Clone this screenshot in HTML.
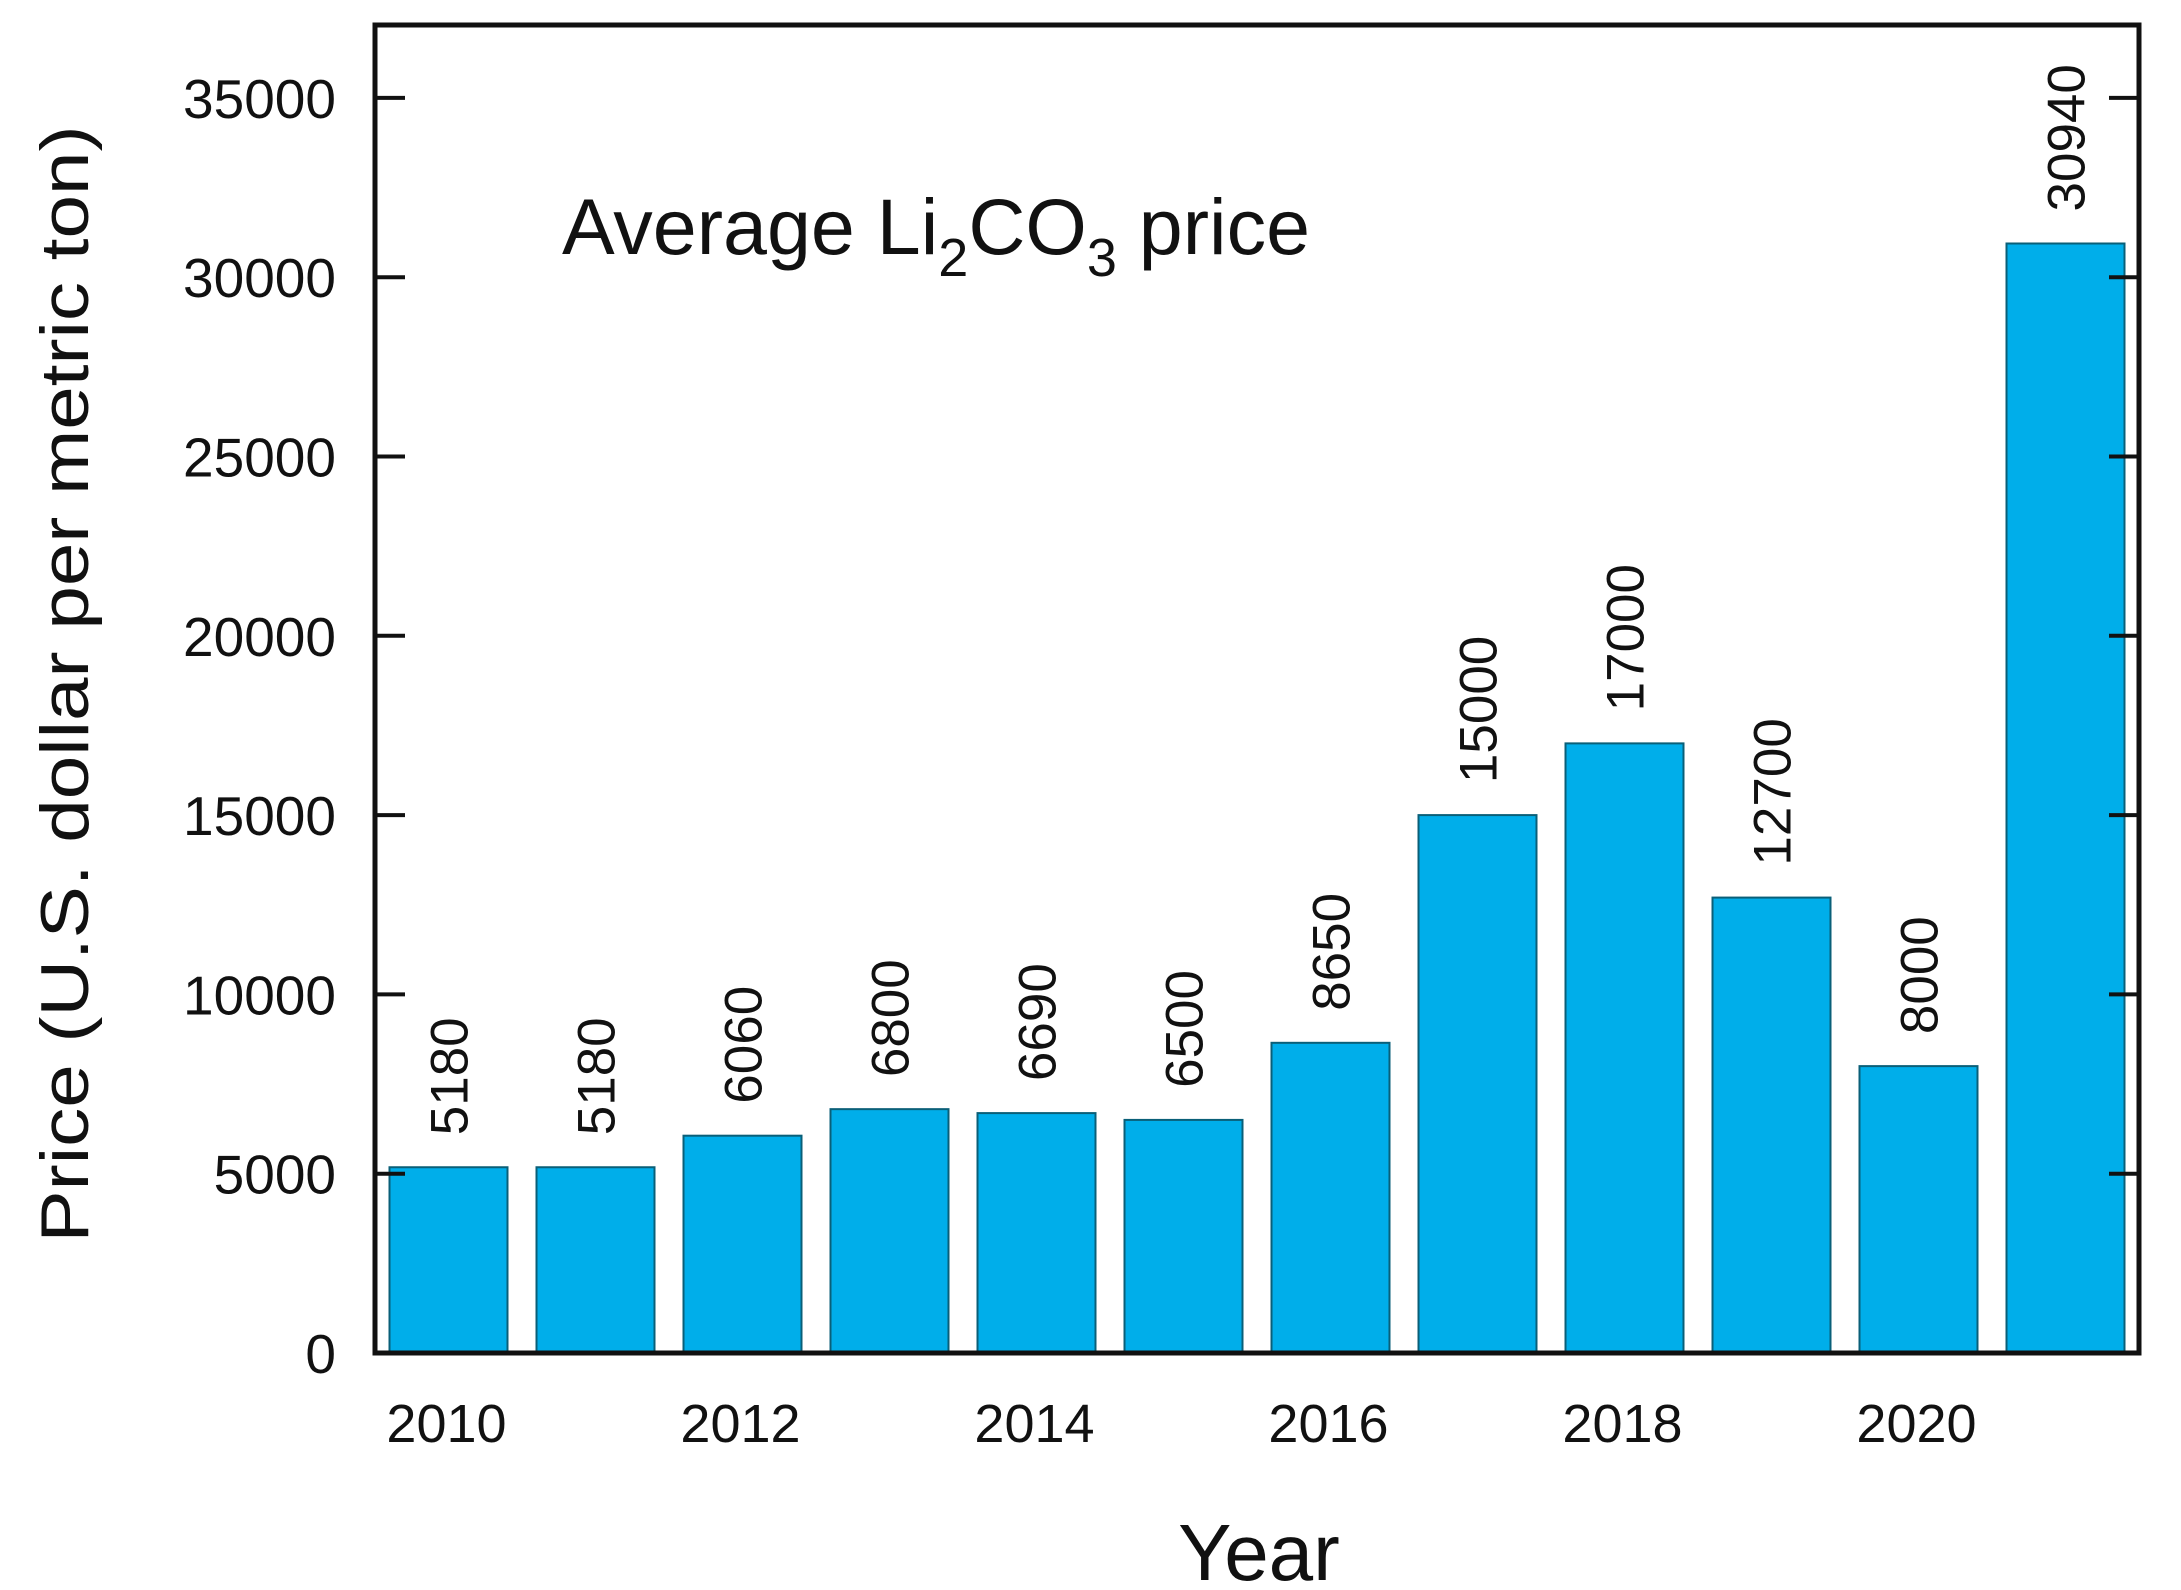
<!DOCTYPE html>
<html><head><meta charset="utf-8"><style>html,body{margin:0;padding:0;background:#fff}svg{display:block}text{font-family:"Liberation Sans",Arial,sans-serif;fill:#111}</style></head>
<body>
<svg id="chart" width="2181" height="1590" viewBox="0 0 2181 1590" xmlns="http://www.w3.org/2000/svg">
<rect width="2181" height="1590" fill="#fff"/>
<g id="bars"></g>
<g id="labels"></g>
<g id="axes"></g>
<text x="562" y="254" font-size="79">Average Li<tspan font-size="54" dy="22">2</tspan><tspan dy="-22">CO</tspan><tspan font-size="54" dy="22">3</tspan><tspan dy="-22"> price</tspan></text>
<text x="1271" y="1580" font-size="80" text-anchor="middle" transform="translate(-12,0)">Year</text>
<text transform="translate(88,684) rotate(-90)" font-size="68" text-anchor="middle" textLength="1117" lengthAdjust="spacingAndGlyphs">Price (U.S. dollar per metric ton)</text>
</svg>
<script>
const years = [2010,2011,2012,2013,2014,2015,2016,2017,2018,2019,2020,2021];
const prices = [5180,5180,6060,6800,6690,6500,8650,15000,17000,12700,8000,30940];
const priceLabels = ["5180","5180","6060","6800","6690","6500","8650","15000","17000","12700","8000","30940"];
const yTicks = [0,5000,10000,15000,20000,25000,30000,35000];
const xTickYears = [2010,2012,2014,2016,2018,2020];

const L=375,R=2139,T=25,B=1353;
const slot=(R-L)/years.length;
const y=v=>B-(v/5000)*179.3;
const xc=yr=>L+slot*(years.indexOf(yr)+0.5);
const NS="http://www.w3.org/2000/svg";
function mk(tag,attrs,parent){const e=document.createElementNS(NS,tag);for(const k in attrs)e.setAttribute(k,attrs[k]);parent.appendChild(e);return e;}
const gb=document.getElementById('bars'),gl=document.getElementById('labels'),ga=document.getElementById('axes');
const bw=118;
years.forEach((yr,i)=>{
  const cx=xc(yr);
  const r=mk('rect',{x:cx-bw/2,y:y(prices[i]),width:bw,height:B-y(prices[i]),fill:'#00AEEA',stroke:'#0a5f78','stroke-width':2},gb);
  
  
  const t=mk('text',{transform:`translate(${cx+19},${y(prices[i])-32}) rotate(-90)`,'font-size':53},gl);
  t.textContent=priceLabels[i];
  
  
});
const frame=mk('rect',{x:L,y:T,width:R-L,height:B-T,fill:'none',stroke:'#111','stroke-width':5},ga);


yTicks.forEach(v=>{
  const yy=y(v);
  if(v>0){
    const a=mk('line',{x1:L,x2:L+30,y1:yy,y2:yy,stroke:'#111','stroke-width':4},ga);
    
    
    const b=mk('line',{x1:R-30,x2:R,y1:yy,y2:yy,stroke:'#111','stroke-width':4},ga);
    
    
  }
  const t=mk('text',{x:336,y:yy+20,'font-size':55,'text-anchor':'end'},ga);
  t.textContent=v;
  
  
});
xTickYears.forEach(yr=>{
  const t=mk('text',{x:xc(yr)-2,y:1442,'font-size':54,'text-anchor':'middle'},ga);
  t.textContent=yr;
  
  
});
</script>
</body></html>
